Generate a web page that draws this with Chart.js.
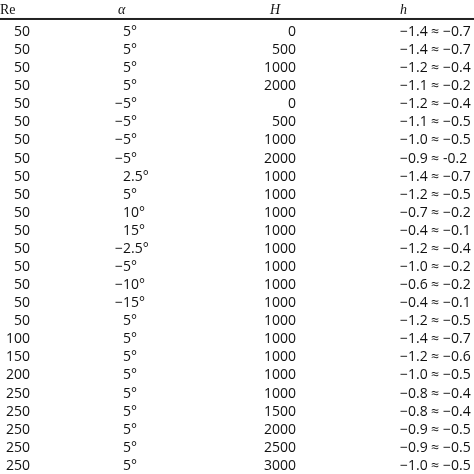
<!DOCTYPE html>
<html>
<head>
<meta charset="utf-8">
<script src="https://cdn.jsdelivr.net/npm/chart.js@4"></script>
<style>
  html, body { margin: 0; padding: 0; background: #fff; }
  #wrap { width: 474px; height: 474px; }
</style>
</head>
<body>
<div id="wrap"><canvas id="tbl"></canvas></div>
<script>
const headers = ["Re", "α", "H", "h"];
const reVals = [50, 50, 50, 50, 50, 50, 50, 50, 50, 50, 50, 50, 50, 50, 50, 50, 50, 100, 150, 200, 250, 250, 250, 250, 250];
const alphaVals = ["5°", "5°", "5°", "5°", "−5°", "−5°", "−5°", "−5°", "2.5°", "5°", "10°", "15°", "−2.5°", "−5°", "−10°", "−15°", "5°", "5°", "5°", "5°", "5°", "5°", "5°", "5°", "5°"];
const hVals = [0, 500, 1000, 2000, 0, 500, 1000, 2000, 1000, 1000, 1000, 1000, 1000, 1000, 1000, 1000, 1000, 1000, 1000, 1000, 1000, 1000, 1500, 2000, 2500, 3000];
const hRange = ["−1.4 ≈ −0.7", "−1.4 ≈ −0.7", "−1.2 ≈ −0.4", "−1.1 ≈ −0.2", "−1.2 ≈ −0.4", "−1.1 ≈ −0.5", "−1.0 ≈ −0.5", "−0.9 ≈ -0.2", "−1.4 ≈ −0.7", "−1.2 ≈ −0.5", "−0.7 ≈ −0.2", "−0.4 ≈ −0.1", "−1.2 ≈ −0.4", "−1.0 ≈ −0.2", "−0.6 ≈ −0.2", "−0.4 ≈ −0.1", "−1.2 ≈ −0.5", "−1.4 ≈ −0.7", "−1.2 ≈ −0.6", "−1.0 ≈ −0.5", "−0.8 ≈ −0.4", "−0.8 ≈ −0.4", "−0.8 ≈ −0.4", "−0.9 ≈ −0.5", "−0.9 ≈ −0.5", "−1.0 ≈ −0.5"];
hVals.splice(21, 1); // 25 rows
hRange.splice(21, 1);

// column anchors (x on a 0..474 scale) and alignment
const cols = [
  { x: 30, align: "right", head: 0, headAlign: "left" },
  { x: 123, align: "digit", head: 118, headAlign: "left" },
  { x: 296, align: "right", head: 270, headAlign: "left" },
  { x: 400, align: "left", head: 400, headAlign: "left" },
];
const columns = [reVals.map(String), alphaVals, hVals.map(String), hRange];
const headerRow = -1.22;
const ruleRow = -0.72;

const datasets = columns.map((vals, c) => ({
  label: headers[c],
  data: vals.map((v, i) => ({ x: cols[c].x, y: i })),
  texts: vals,
  pointRadius: 0,
}));

const tablePlugin = {
  id: "tablePlugin",
  afterDatasetsDraw(chart) {
    const { ctx, scales } = chart;
    ctx.save();
    ctx.fillStyle = "#111";
    ctx.textBaseline = "middle";
    // header
    ctx.font = "italic 14px 'Liberation Serif'";
    headers.forEach((h, c) => {
      ctx.textAlign = "left";
      ctx.font = c === 0 ? "14px 'Liberation Serif'" : "italic 14px 'Liberation Serif'";
      ctx.fillText(h, scales.x.getPixelForValue(cols[c].head), scales.y.getPixelForValue(headerRow));
    });
    // rule
    const ry = scales.y.getPixelForValue(ruleRow);
    ctx.fillStyle = "#222";
    ctx.fillRect(0, ry - 1, chart.width, 2);
    ctx.fillStyle = "#111";
    ctx.font = "14px 'Open Sans'";
    chart.data.datasets.forEach((ds, c) => {
      const meta = chart.getDatasetMeta(c);
      meta.data.forEach((pt, i) => {
        let t = ds.texts[i];
        let x = pt.x;
        if (cols[c].align === "right") ctx.textAlign = "right";
        else {
          ctx.textAlign = "left";
          if (cols[c].align === "digit" && t.startsWith("−")) x -= ctx.measureText("−").width;
        }
        ctx.fillText(t, x, pt.y);
      });
    });
    ctx.restore();
  },
};

new Chart(document.getElementById("tbl"), {
  type: "scatter",
  data: { datasets },
  plugins: [tablePlugin],
  options: {
    responsive: true,
    maintainAspectRatio: false,
    animation: false,
    layout: { padding: 0 },
    plugins: { legend: { display: false }, tooltip: { enabled: false } },
    scales: {
      x: { display: false, min: 0, max: 474 },
      y: { display: false, reverse: true, min: -1.77, max: 24.45 },
    },
  },
});
</script>
</body>
</html>
